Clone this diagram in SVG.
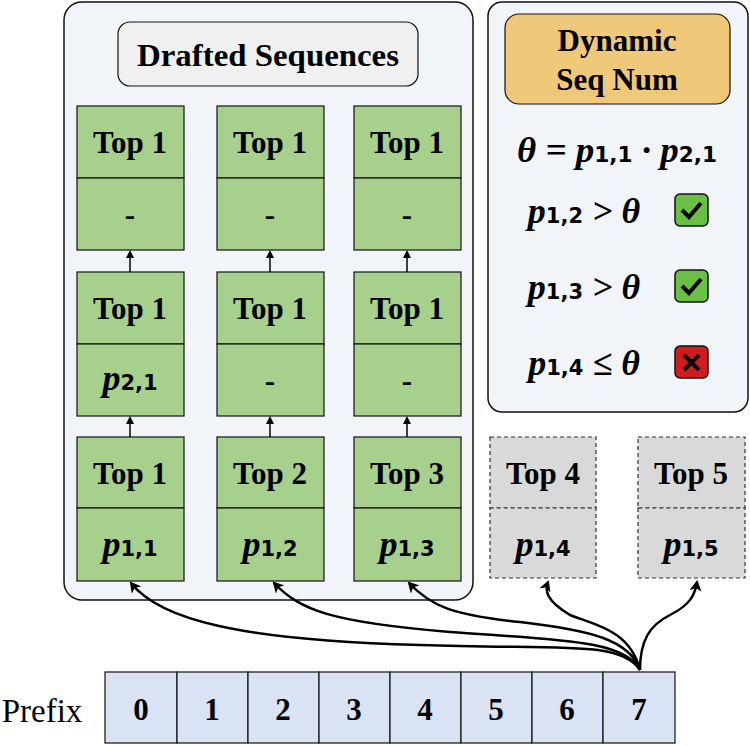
<svg xmlns="http://www.w3.org/2000/svg" width="750" height="746" viewBox="0 0 750 746">
<style>
.panel{fill:#f1f5f9;stroke:#111;stroke-width:1.5}
.g{fill:#a8d08d;stroke:#111;stroke-width:1.2}
.gr{fill:#d9d9d9;stroke:#333;stroke-width:1.2;stroke-dasharray:4,3}
.pc{fill:#dae3f3;stroke:#111;stroke-width:1.2}
.t{font-family:"Liberation Serif",serif;font-weight:bold;font-size:31px;fill:#000;text-anchor:middle}
.m{font-family:"Liberation Serif",serif;font-weight:bold;font-style:italic;font-size:36px;fill:#000;text-anchor:middle}
.s{font-family:"DejaVu Sans",sans-serif;font-style:normal;font-weight:bold;font-size:21px}
.c{fill:none;stroke:#000;stroke-width:2.5}
.a{fill:none;stroke:#000;stroke-width:1.5}
</style>
<defs>
<marker id="ah" markerWidth="8" markerHeight="8" refX="6" refY="4" orient="auto" markerUnits="userSpaceOnUse"><path d="M0,0 L8,4 L0,8 z" fill="#000"/></marker>
<marker id="ah2" markerWidth="12" markerHeight="12" refX="9" refY="6" orient="auto" markerUnits="userSpaceOnUse"><path d="M0,0 L11,6 L0,12 L3,6 z" fill="#000"/></marker>
</defs>
<g id="left-panel">
<rect class="panel" x="64" y="2" width="409" height="598" rx="18"/>
<rect x="118" y="22" width="300" height="64" rx="12" fill="#f0f0f0" stroke="#111" stroke-width="1.2"/>
<text class="t" x="268" y="66" textLength="262" lengthAdjust="spacingAndGlyphs">Drafted Sequences</text>
</g>
<g id="right-panel">
<rect class="panel" x="488" y="2" width="260" height="410" rx="14"/>
<rect x="505" y="14" width="225" height="90" rx="14" fill="#f0c87a" stroke="#111" stroke-width="1.2"/>
<text class="t" x="617" y="51">Dynamic</text>
<text class="t" x="617" y="90">Seq Num</text>
<text class="m" x="617" y="162" textLength="200" lengthAdjust="spacingAndGlyphs">θ = p<tspan class="s">1,1</tspan> · p<tspan class="s">2,1</tspan></text>
<text class="m" x="584" y="223">p<tspan class="s">1,2</tspan> &gt; θ</text>
<text class="m" x="584" y="299">p<tspan class="s">1,3</tspan> &gt; θ</text>
<text class="m" x="584" y="375">p<tspan class="s">1,4</tspan> ≤ θ</text>
<rect x="675" y="194" width="33" height="32" rx="5" fill="#6abf45" stroke="#111" stroke-width="1.5"/>
<path d="M682,210 L689,217 L701,203" fill="none" stroke="#000" stroke-width="4"/>
<rect x="675" y="270" width="33" height="32" rx="5" fill="#6abf45" stroke="#111" stroke-width="1.5"/>
<path d="M682,286 L689,293 L701,279" fill="none" stroke="#000" stroke-width="4"/>
<rect x="675" y="346" width="33" height="32" rx="5" fill="#d01c1c" stroke="#111" stroke-width="1.5"/>
<path d="M684,355 L699,370 M699,355 L684,370" fill="none" stroke="#000" stroke-width="4"/>
</g>
<g id="n-c1-r1"><rect class="g" x="77" y="106" width="107" height="72"/><rect class="g" x="77" y="178" width="107" height="72"/><text class="t" x="130" y="153">Top 1</text><text class="t" x="130" y="225">-</text></g>
<g id="n-c2-r1"><rect class="g" x="217" y="106" width="107" height="72"/><rect class="g" x="217" y="178" width="107" height="72"/><text class="t" x="270" y="153">Top 1</text><text class="t" x="270" y="225">-</text></g>
<g id="n-c3-r1"><rect class="g" x="354" y="106" width="107" height="72"/><rect class="g" x="354" y="178" width="107" height="72"/><text class="t" x="407" y="153">Top 1</text><text class="t" x="407" y="225">-</text></g>
<g id="n-c1-r2"><rect class="g" x="77" y="272" width="107" height="72"/><rect class="g" x="77" y="344" width="107" height="72"/><text class="t" x="130" y="319">Top 1</text><text class="m" x="130" y="390">p<tspan class="s">2,1</tspan></text></g>
<g id="n-c2-r2"><rect class="g" x="217" y="272" width="107" height="72"/><rect class="g" x="217" y="344" width="107" height="72"/><text class="t" x="270" y="319">Top 1</text><text class="t" x="270" y="391">-</text></g>
<g id="n-c3-r2"><rect class="g" x="354" y="272" width="107" height="72"/><rect class="g" x="354" y="344" width="107" height="72"/><text class="t" x="407" y="319">Top 1</text><text class="t" x="407" y="391">-</text></g>
<g id="n-c1-r3"><rect class="g" x="77" y="437" width="107" height="71"/><rect class="g" x="77" y="508" width="107" height="73"/><text class="t" x="130" y="484">Top 1</text><text class="m" x="130" y="556">p<tspan class="s">1,1</tspan></text></g>
<g id="n-c2-r3"><rect class="g" x="217" y="437" width="107" height="71"/><rect class="g" x="217" y="508" width="107" height="73"/><text class="t" x="270" y="484">Top 2</text><text class="m" x="270" y="556">p<tspan class="s">1,2</tspan></text></g>
<g id="n-c3-r3"><rect class="g" x="354" y="437" width="107" height="71"/><rect class="g" x="354" y="508" width="107" height="73"/><text class="t" x="407" y="484">Top 3</text><text class="m" x="407" y="556">p<tspan class="s">1,3</tspan></text></g>
<g id="n-top4"><rect class="gr" x="490" y="437" width="106" height="71"/><rect class="gr" x="490" y="508" width="106" height="70"/><text class="t" x="543" y="484">Top 4</text><text class="m" x="543" y="556">p<tspan class="s">1,4</tspan></text></g>
<g id="n-top5"><rect class="gr" x="638" y="437" width="107" height="71"/><rect class="gr" x="638" y="508" width="107" height="70"/><text class="t" x="691" y="484">Top 5</text><text class="m" x="691" y="556">p<tspan class="s">1,5</tspan></text></g>
<g id="prefix">
<text x="42" y="722" font-family="Liberation Serif,serif" font-size="33" text-anchor="middle">Prefix</text>
<rect class="pc" x="105" y="672" width="72" height="71"/><text class="t" x="141" y="720">0</text>
<rect class="pc" x="177" y="672" width="71" height="71"/><text class="t" x="212" y="720">1</text>
<rect class="pc" x="248" y="672" width="71" height="71"/><text class="t" x="283" y="720">2</text>
<rect class="pc" x="319" y="672" width="71" height="71"/><text class="t" x="354" y="720">3</text>
<rect class="pc" x="390" y="672" width="71" height="71"/><text class="t" x="425" y="720">4</text>
<rect class="pc" x="461" y="672" width="71" height="71"/><text class="t" x="496" y="720">5</text>
<rect class="pc" x="532" y="672" width="71" height="71"/><text class="t" x="567" y="720">6</text>
<rect class="pc" x="603" y="672" width="72" height="71"/><text class="t" x="639" y="720">7</text>
</g>
<g id="connectors">
<path class="a" marker-end="url(#ah)" d="M130,272 L130,252"/>
<path class="a" marker-end="url(#ah)" d="M270,272 L270,252"/>
<path class="a" marker-end="url(#ah)" d="M407,272 L407,252"/>
<path class="a" marker-end="url(#ah)" d="M130,437 L130,418"/>
<path class="a" marker-end="url(#ah)" d="M270,437 L270,418"/>
<path class="a" marker-end="url(#ah)" d="M407,437 L407,418"/>
<path class="c" marker-end="url(#ah2)" d="M640,670 C620,640 560,650 420,645 C240,640 160,620 131,583"/>
<path class="c" marker-end="url(#ah2)" d="M640,670 C625,640 560,640 450,632 C330,622 300,610 274,583"/>
<path class="c" marker-end="url(#ah2)" d="M640,670 C630,640 590,630 520,622 C450,615 430,605 409,583"/>
<path class="c" marker-end="url(#ah2)" d="M640,670 C630,630 595,625 570,615 C545,600 545,590 548,582"/>
<path class="c" marker-end="url(#ah2)" d="M640,670 C640,640 650,625 670,615 C690,605 695,595 697,582"/>
</g>
</svg>
